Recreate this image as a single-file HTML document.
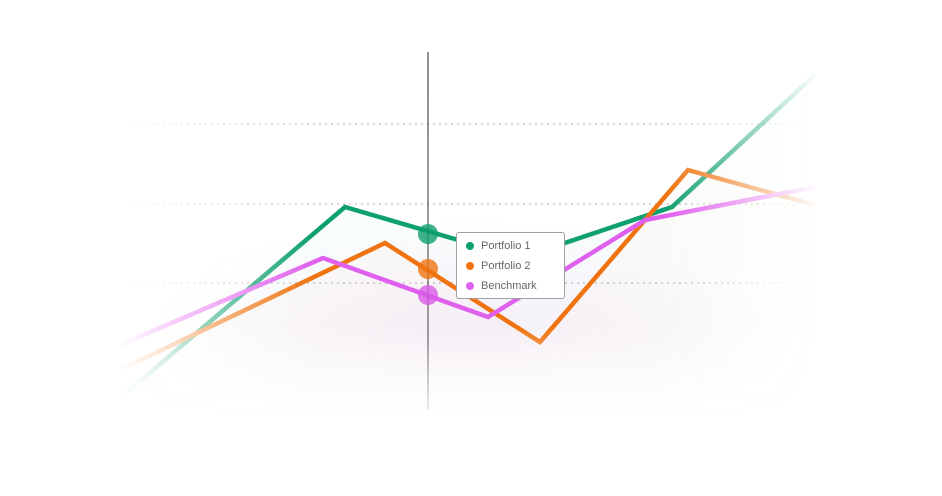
<!DOCTYPE html>
<html><head><style>
html,body{margin:0;padding:0;background:#fff;width:942px;height:496px;overflow:hidden}
.tt{position:absolute;left:456px;top:232px;width:109px;height:67px;background:#fff;border:1px solid #a0a0a0;border-radius:3px;box-sizing:border-box;font-family:"Liberation Sans",sans-serif;font-size:11px;color:#666}
.tt div{position:absolute;left:24px;height:14px;line-height:14px}
.tt span{position:absolute;left:-15px;top:3px;width:8px;height:8px;border-radius:50%}
</style></head><body>
<svg width="942" height="496" style="position:absolute;left:0;top:0">
<defs>
<linearGradient id="fh" x1="0" x2="1" y1="0" y2="0">
<stop offset="0" stop-color="#fff" stop-opacity="0"/>
<stop offset="0.28" stop-color="#fff" stop-opacity="1"/>
<stop offset="0.78" stop-color="#fff" stop-opacity="1"/>
<stop offset="1" stop-color="#fff" stop-opacity="0"/>
</linearGradient>
<linearGradient id="fv" x1="0" x2="0" y1="0" y2="1">
<stop offset="0" stop-color="#fff" stop-opacity="0.3"/>
<stop offset="0.1" stop-color="#fff" stop-opacity="1"/>
<stop offset="0.75" stop-color="#fff" stop-opacity="1"/>
<stop offset="1" stop-color="#fff" stop-opacity="0"/>
</linearGradient>
<linearGradient id="vl" x1="0" x2="0" y1="0" y2="1">
<stop offset="0" stop-color="#222"/>
<stop offset="0.8" stop-color="#444"/>
<stop offset="1" stop-color="#444" stop-opacity="0.2"/>
</linearGradient>
<radialGradient id="pg" cx="0.5" cy="0.5" r="0.5">
<stop offset="0" stop-color="#d070e0" stop-opacity="0.1"/>
<stop offset="1" stop-color="#d070e0" stop-opacity="0"/>
</radialGradient>
<mask id="mh" maskUnits="userSpaceOnUse" x="0" y="0" width="942" height="496"><rect x="115" y="0" width="705" height="496" fill="url(#fh)"/></mask>
<mask id="mv" maskUnits="userSpaceOnUse" x="0" y="0" width="942" height="496"><rect x="0" y="50" width="942" height="370" fill="url(#fv)"/></mask>
</defs>
<g stroke="#c8c8c8" stroke-width="1.5" stroke-dasharray="2,4" mask="url(#mh)">
<line x1="115" y1="124" x2="820" y2="124"/><line x1="115" y1="204" x2="820" y2="204"/><line x1="115" y1="283" x2="820" y2="283"/>
</g>
<g mask="url(#mh)"><g mask="url(#mv)">
<polygon points="120,398 345,207 520,258 672,207 815,75 815,420 120,420" fill="#0ea06e" opacity="0.025"/>
<polygon points="120,370 385,243 540,342 688,170 815,205 815,420 120,420" fill="#f07a10" opacity="0.015"/>
<ellipse cx="470" cy="330" rx="330" ry="110" fill="url(#pg)"/>
<polyline points="120,398 345,207 520,258 672,207 815,75" fill="none" stroke="#0ea06e" stroke-width="4.5"/>
<polyline points="120,370 385,243 540,342 688,170 815,205" fill="none" stroke="#ef7411" stroke-width="4.5"/>
<polyline points="120,345 323,258 488,317 645,220 815,187" fill="none" stroke="#e060ee" stroke-width="4.5"/>
</g></g>
<rect x="427.5" y="52" width="1" height="358" fill="url(#vl)"/>
<circle cx="428" cy="234" r="10" fill="#0ea06e" opacity="0.8"/>
<circle cx="428" cy="269" r="10" fill="#ef7411" opacity="0.8"/>
<circle cx="428" cy="295" r="10" fill="#d85ae6" opacity="0.8"/>
</svg>
<div class="tt">
<div style="top:6px"><span style="background:#0ea06e"></span>Portfolio 1</div>
<div style="top:26px"><span style="background:#ef7411"></span>Portfolio 2</div>
<div style="top:46px"><span style="background:#e060ee"></span>Benchmark</div>
</div>
</body></html>
